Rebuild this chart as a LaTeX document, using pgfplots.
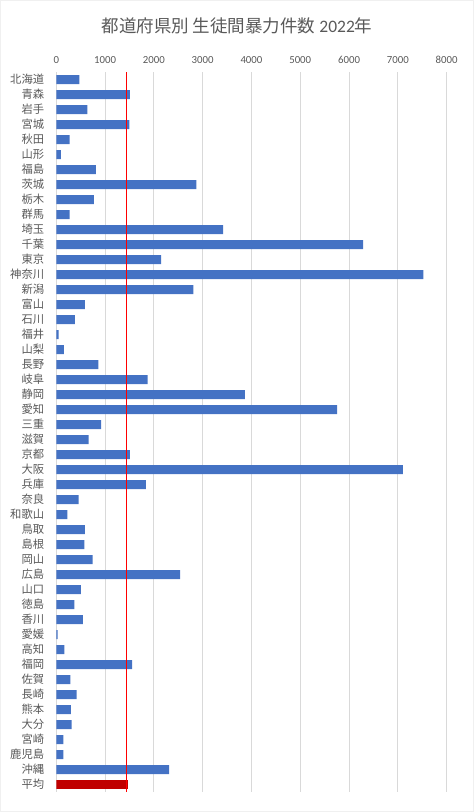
\documentclass[border=0pt]{standalone}
\usepackage{pgfplots}
\pgfplotsset{compat=1.18}
\usepackage{fontspec}
\setmainfont{Carlito}
\newfontfamily\cjk{Noto Sans CJK JP}
\definecolor{txt}{HTML}{595959}
\definecolor{gridc}{HTML}{D9D9D9}
\definecolor{barblue}{HTML}{4472C4}
\definecolor{barred}{HTML}{C00000}

\begin{document}
\begin{tikzpicture}
\useasboundingbox (0pt,0pt) rectangle (474pt,812pt);
\draw[color=gridc!40, line width=0.6pt] (0.3pt,0.3pt) rectangle (473.7pt,811.7pt);
\node[text=txt, font=\fontsize{17.5}{20}\selectfont] at (237pt,786.5pt)
  {{\cjk 都道府県別 生徒間暴力件数} 2022{\cjk 年}};
\begin{axis}[
  at={(56.3pt,20pt)}, anchor=south west,
  scale only axis,
  width=390.3pt, height=720pt,
  xmin=0, xmax=8000,
  ymin=-0.5, ymax=47.5,
  y dir=reverse,
  axis line style={draw=none},
  xtick={0,1000,...,8000},
  xticklabel pos=right,
  xmajorgrids,
  grid style={gridc, line width=0.9pt},
  major tick length=0pt,
  scaled x ticks=false,
  /pgf/number format/assume math mode=true,
  /pgf/number format/1000 sep={},
  xticklabel style={text=txt, font=\fontsize{10.8}{12}\selectfont, inner sep=0pt, anchor=south, yshift=8pt},
  ytick={0,...,47},
  yticklabels={北海道,青森,岩手,宮城,秋田,山形,福島,茨城,栃木,群馬,埼玉,千葉,東京,神奈川,新潟,富山,石川,福井,山梨,長野,岐阜,静岡,愛知,三重,滋賀,京都,大阪,兵庫,奈良,和歌山,鳥取,島根,岡山,広島,山口,徳島,香川,愛媛,高知,福岡,佐賀,長崎,熊本,大分,宮崎,鹿児島,沖縄,平均},
  yticklabel style={text=txt, font=\cjk\fontsize{11.3}{12}\selectfont, inner sep=0pt, anchor=east, xshift=-12pt},
]
\addplot[xbar, bar width=9pt, bar shift=0pt, fill=barblue, draw=none] coordinates {
(471,0) (1510,1) (635,2) (1496,3) (274,4) (96,5) (813,6) (2869,7) (772,8) (274,9)
(3420,10) (6287,11) (2150,12) (7522,13) (2812,14) (587,15) (382,16) (48,17) (157,18) (860,19)
(1870,20) (3863,21) (5754,22) (921,23) (662,24) (1508,25) (7106,26) (1836,27) (457,28) (225,29)
(587,30) (573,31) (744,32) (2539,33) (505,34) (369,35) (546,36) (27,37) (164,38) (1556,39)
(287,40) (416,41) (300,42) (314,43) (143,44) (143,45) (2314,46)
};
\addplot[xbar, bar width=9pt, bar shift=0pt, fill=barred, draw=none] coordinates {(1468,47)};
\addplot[draw=red, line width=0.6pt, no marks] coordinates {(1440,-0.5) (1440,47.5)};
\end{axis}
\end{tikzpicture}
\end{document}
